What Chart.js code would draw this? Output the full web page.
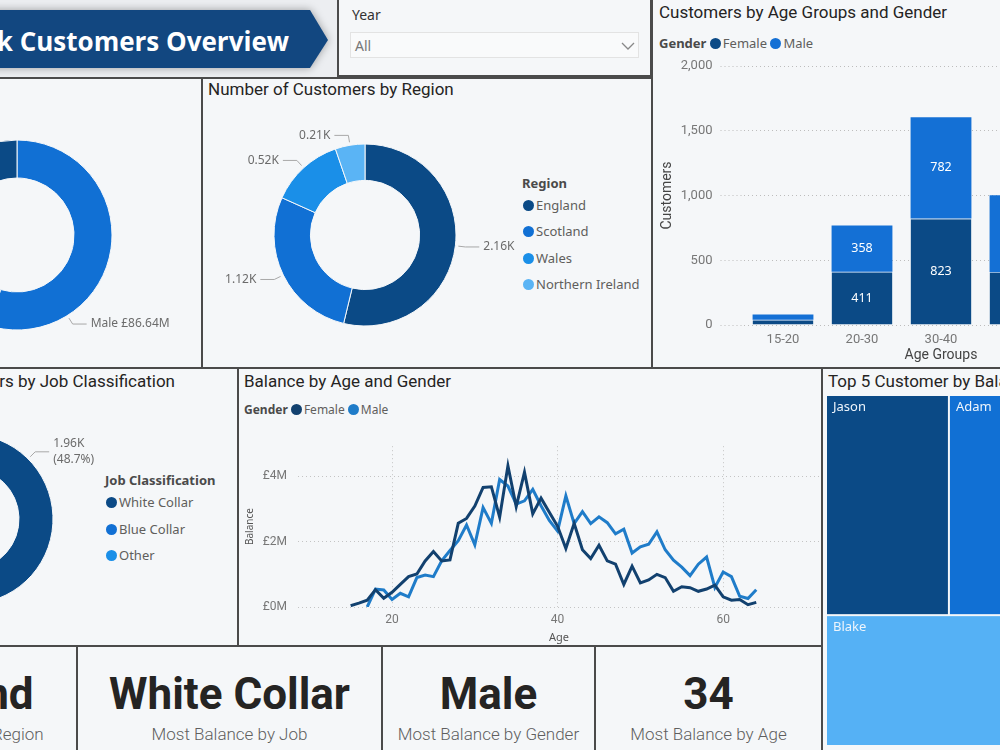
<!DOCTYPE html>
<html>
<head>
<meta charset="utf-8">
<title>Bank Customers Overview</title>
<script src="https://cdn.jsdelivr.net/npm/chart.js@4.4.1/dist/chart.umd.min.js"></script>
<style>
  html, body { margin: 0; padding: 0; }
  body {
    width: 1000px; height: 750px; overflow: hidden; position: relative;
    background: #eceef1; font-family: "Noto Sans", sans-serif;
  }
  .panel { position: absolute; box-sizing: border-box; border: 2px solid #4b4b4b; background: #f5f7f9; }
  .abs { position: absolute; white-space: nowrap; }
  .title { font-family: Roboto, sans-serif; font-size: 17px; color: #252423; line-height: 20px; }
  .lg { font-size: 13px; color: #605e5c; line-height: 18px; }
  .lg b { color: #4a4a4a; }
  .dot { display: inline-block; width: 11px; height: 11px; border-radius: 50%; vertical-align: -1px; margin-right: 2px; }
  .kpi { position: absolute; text-align: center; white-space: nowrap; }
  .kpi .v { font-family: Roboto, sans-serif; font-weight: 700; font-size: 44px; line-height: 50px; color: #252423; }
  .kpi .l { font-family: Roboto, sans-serif; font-weight: 300; font-size: 17px; line-height: 22px; color: #5f5f5f; margin-top: 4px; }
  canvas { position: absolute; }
  #banner { position: absolute; left: -20px; top: 10px; filter: drop-shadow(0 0 4px rgba(0,0,0,0.35)); }
  #banner div {
    width: 348px; height: 58px; background: #124780;
    clip-path: polygon(0 0, 330px 0, 348px 30px, 330px 58px, 0 58px);
  }
</style>
</head>
<body>
<div id="banner"><div></div></div>
<script>
// ---- data ----
const genderLabels = ['Male', 'Female'];
const genderBalanceM = [86.64, 71.9];
const genderColors = ['#1170d4', '#0b4a86'];

const regionLabels = ['England', 'Scotland', 'Wales', 'Northern Ireland'];
const regionCustomers = [2164, 1124, 524, 212];
const regionColors = ['#0b4a86', '#1170d4', '#1a8fe8', '#5ab4f5'];

const jobLabels = ['White Collar', 'Blue Collar', 'Other'];
const jobCustomers = [1960, 1482, 582];
const jobColors = ['#0b4a86', '#1170d4', '#1a8fe8'];

const ageGroups = ['15-20', '20-30', '30-40', '40-50', '50-60'];
const femaleByGroup = [40, 411, 823, 410, 230];
const maleByGroup = [42, 358, 782, 592, 336];
const genderSeries = ['Female', 'Male'];
const barColors = ['#0b4a86', '#1470d5'];

const ages = [15, 16, 17, 18, 19, 20, 21, 22, 23, 24, 25, 26, 27, 28, 29, 30, 31, 32, 33, 34,
  35, 36, 37, 38, 39, 40, 41, 42, 43, 44, 45, 46, 47, 48, 49, 50, 51, 52, 53, 54,
  55, 56, 57, 58, 59, 60, 61, 62, 63, 64];
const femaleBalanceM = [0.04, 0.12, 0.21, 0.53, 0.27, 0.45, 0.69, 0.93, 1.01, 1.41, 1.70, 1.41, 1.44, 2.56, 2.71, 3.09, 3.66, 3.68, 2.75, 4.32,
  3.07, 4.12, 2.85, 3.33, 2.90, 2.47, 1.79, 2.56, 1.75, 1.48, 1.89, 1.41, 1.31, 0.69, 1.25, 0.74, 0.83, 1.00, 0.90, 0.48,
  0.62, 0.59, 0.48, 0.55, 0.67, 0.31, 0.21, 0.23, 0.07, 0.14];
const maleBalanceM = [null, null, 0.00, 0.55, 0.52, 0.23, 0.42, 0.31, 0.90, 0.98, 0.93, 1.41, 1.73, 2.03, 2.51, 1.90, 3.04, 2.56, 3.90, 3.70,
  3.15, 3.25, 3.60, 3.10, 2.65, 2.32, 3.40, 2.55, 2.92, 2.55, 2.76, 2.58, 2.24, 2.38, 1.65, 1.84, 1.92, 2.30, 1.75, 1.43,
  1.22, 0.96, 1.31, 1.53, 0.60, 1.07, 0.93, 0.33, 0.26, 0.53];
const lineColors = ['#12416f', '#1f7cc9'];

const topNames = ['Jason', 'Adam', 'Blake', 'Ryan', 'Liam'];
const topBalanceM = [2.67, 2.63, 2.34, 0.43, 0.38];
const topColors = ['#0b4a86', '#1170d4', '#55b1f5', '#1a8fe8', '#7cc4f7'];

const kpiValues = ['England', 'White Collar', 'Male', '34'];
const kpiLabels = ['Most Balance by Region', 'Most Balance by Job', 'Most Balance by Gender', 'Most Balance by Age'];

// ---- helpers ----
function addDiv(cls, html, style) {
  const d = document.createElement('div');
  d.className = cls;
  d.innerHTML = html;
  Object.assign(d.style, style);
  document.body.appendChild(d);
  return d;
}
function panel(x, y, w, h) {
  addDiv('panel', '', { left: x + 'px', top: y + 'px', width: w + 'px', height: h + 'px' });
}
function addCanvas(x, y, w, h) {
  const c = document.createElement('canvas');
  c.width = w; c.height = h;
  Object.assign(c.style, { left: x + 'px', top: y + 'px', width: w + 'px', height: h + 'px' });
  document.body.appendChild(c);
  return c;
}
function hLegend(x, yc, title, labels, colors, size) {
  let html = '<b>' + title + '</b> ';
  labels.forEach((l, i) => {
    html += '<span class="dot" style="background:' + colors[i] + '"></span>' + l + ' ';
  });
  addDiv('abs lg', html, { left: x + 'px', top: (yc - 9) + 'px', fontSize: size + 'px' });
}
function vLegend(x, yc, title, labels, colors, gap) {
  addDiv('abs lg', '<b>' + title + '</b>', { left: x + 'px', top: (yc - 9) + 'px' });
  labels.forEach((l, i) => {
    addDiv('abs lg', '<span class="dot" style="background:' + colors[i] + '"></span>' + l,
      { left: (x + 1) + 'px', top: (yc + 22 + i * gap - 9) + 'px', fontSize: '13px' });
  });
}

// ---- layout: panels ----
panel(337, -2, 315, 79);     // year slicer
panel(-10, 77, 213, 292);    // gender donut
panel(201, 77, 452, 292);    // region donut
panel(651, -2, 360, 372);    // age groups bars
panel(-10, 367, 249, 280);   // job donut
panel(237, 367, 586, 280);   // balance line
panel(821, 367, 190, 390);   // treemap
panel(-170, 645, 248, 110);
panel(76, 645, 307, 110);
panel(381, 645, 215, 110);
panel(594, 645, 229, 110);

addDiv('abs', 'Bank Customers Overview', {
  right: (1000 - 289) + 'px', top: '23px', color: '#fff', fontWeight: '700',
  fontSize: '26px', lineHeight: '36px', fontFamily: '"Open Sans", sans-serif'
});

// year slicer
addDiv('abs', 'Year', { left: '352px', top: '5px', fontSize: '14px', color: '#333', lineHeight: '20px' });
addDiv('abs', '', { left: '350px', top: '32px', width: '289px', height: '26px', border: '1px solid #e3e3e3', background: '#f9fafb', boxSizing: 'border-box' });
addDiv('abs', 'All', { left: '355px', top: '36px', fontSize: '14px', color: '#777', lineHeight: '20px' });
addDiv('abs', '<svg width="14" height="8"><polyline points="1,1 7,7 13,1" fill="none" stroke="#888" stroke-width="1.3"/></svg>',
  { left: '621px', top: '42px', lineHeight: '0' });

// titles
addDiv('abs title', 'Number of Customers by Region', { left: '208px', top: '79px' });
addDiv('abs title', 'Customers by Age Groups and Gender', { left: '659px', top: '2px' });
addDiv('abs title', 'Number of Customers by Job Classification', { right: (1000 - 175) + 'px', top: '371px' });
addDiv('abs title', 'Balance by Age and Gender', { left: '244px', top: '371px' });
addDiv('abs title', 'Top 5 Customer by Balance', { left: '828px', top: '371px' });

// legends
vLegend(522, 183, 'Region', regionLabels, regionColors, 26.3);
vLegend(105, 480, 'Job Classification', jobLabels, jobColors, 26.5);
hLegend(659, 43, 'Gender', genderSeries, barColors, 13);
hLegend(244, 410, 'Gender', genderSeries, lineColors, 12);

// KPI cards
const kpiCenters = [-46, 229.5, 488.5, 708.5];
kpiValues.forEach((v, i) => {
  addDiv('kpi', '<div class="v">' + v + '</div><div class="l">' + kpiLabels[i] + '</div>',
    { left: (kpiCenters[i] - 150) + 'px', width: '300px', top: '669px' });
});

// ---- charts ----
Chart.defaults.font.family = '"Noto Sans", sans-serif';
Chart.defaults.animation = false;
Chart.defaults.responsive = false;
Chart.defaults.events = [];
Chart.defaults.plugins.legend.display = false;
Chart.defaults.plugins.tooltip.enabled = false;

// outside labels with leader lines; angle in degrees clockwise from 12 o'clock
function donutLabels(textFn, angleOverride) {
  return {
    id: 'donutLabels',
    afterDraw(chart) {
      const ctx = chart.ctx;
      const meta = chart.getDatasetMeta(0);
      ctx.save();
      ctx.font = '12px "Noto Sans", sans-serif';
      ctx.fillStyle = '#6b6b6b';
      ctx.strokeStyle = '#a8a8a8';
      ctx.lineWidth = 1;
      ctx.textBaseline = 'middle';
      meta.data.forEach((arc, i) => {
        const lines = textFn(i);
        if (!lines) return;
        let a = (arc.startAngle + arc.endAngle) / 2;
        if (angleOverride && angleOverride[i] != null) a = (angleOverride[i] - 90) * Math.PI / 180;
        const r = arc.outerRadius;
        const cx = arc.x, cy = arc.y;
        const p0 = [cx + Math.cos(a) * (r + 3), cy + Math.sin(a) * (r + 3)];
        const p1 = [cx + Math.cos(a) * (r + 10), cy + Math.sin(a) * (r + 10)];
        const side = Math.cos(a) >= 0 ? 1 : -1;
        const p2 = [p1[0] + side * 14, p1[1]];
        ctx.beginPath();
        ctx.moveTo(p0[0], p0[1]);
        ctx.lineTo(p1[0], p1[1]);
        ctx.lineTo(p2[0], p2[1]);
        ctx.stroke();
        ctx.textAlign = side > 0 ? 'left' : 'right';
        lines.forEach((t, k) => {
          ctx.fillText(t, p2[0] + side * 4, p2[1] + (k - (lines.length - 1) / 2) * 16);
        });
      });
      ctx.restore();
    }
  };
}

function fmtK(v) { return (v / 1000).toFixed(2) + 'K'; }

// gender donut (centre sits near the left edge, partly off-page)
new Chart(addCanvas(-113, 105, 330, 260), {
  type: 'doughnut',
  data: { labels: genderLabels, datasets: [{ data: genderBalanceM, backgroundColor: genderColors, borderWidth: 1, borderColor: '#f5f7f9' }] },
  options: { radius: 95, cutout: '60%', layout: { padding: { right: 70 } } },
  plugins: [donutLabels(i => i === 0 ? [genderLabels[i] + ' £' + genderBalanceM[i].toFixed(2) + 'M'] : null, [148, null])]
});

// region donut
new Chart(addCanvas(210, 125, 310, 220), {
  type: 'doughnut',
  data: { labels: regionLabels, datasets: [{ data: regionCustomers, backgroundColor: regionColors, borderWidth: 1, borderColor: '#f5f7f9' }] },
  options: { radius: 91, cutout: '60%' },
  plugins: [donutLabels(i => [fmtK(regionCustomers[i])])]
});

// job classification donut
const jobTotal = jobCustomers.reduce((a, b) => a + b, 0);
new Chart(addCanvas(-152, 399, 300, 240), {
  type: 'doughnut',
  data: { labels: jobLabels, datasets: [{ data: jobCustomers, backgroundColor: jobColors, borderWidth: 1, borderColor: '#f5f7f9' }] },
  options: { radius: 85, cutout: '60%', layout: { padding: { right: 60 } } },
  plugins: [donutLabels(i => i === 0 ? [fmtK(jobCustomers[i]), '(' + (jobCustomers[i] / jobTotal * 100).toFixed(1) + '%)'] : null, [45, null, null])]
});

// stacked bars by age group
const barLabelPlugin = {
  id: 'barLabels',
  afterDatasetsDraw(chart) {
    const ctx = chart.ctx;
    ctx.save();
    ctx.font = '12.5px "Noto Sans", sans-serif';
    ctx.fillStyle = '#ffffff';
    ctx.textAlign = 'center';
    ctx.textBaseline = 'middle';
    chart.data.datasets.forEach((ds, di) => {
      chart.getDatasetMeta(di).data.forEach((bar, i) => {
        if (bar.base - bar.y < 22) return;
        ctx.fillText(String(ds.data[i]), bar.x, (bar.y + bar.base) / 2);
      });
    });
    ctx.restore();
  }
};
new Chart(addCanvas(652, 50, 490, 318), {
  type: 'bar',
  data: {
    labels: ageGroups,
    datasets: [
      { label: genderSeries[0], data: femaleByGroup, backgroundColor: barColors[0], borderColor: '#8fb3d9', borderWidth: { top: 1, left: 0, right: 0, bottom: 0 }, borderSkipped: false },
      { label: genderSeries[1], data: maleByGroup, backgroundColor: barColors[1], borderWidth: 0 }
    ]
  },
  options: {
    layout: { padding: { left: 3, top: 16, right: 3.5, bottom: 0 } },
    datasets: { bar: { categoryPercentage: 1, barPercentage: 0.77 } },
    scales: {
      x: {
        stacked: true,
        grid: { display: false, drawTicks: false },
        border: { display: false },
        ticks: { color: '#777', padding: 7, font: { family: 'Roboto', size: 13 } },
        title: { display: true, text: 'Age Groups', color: '#444', font: { family: 'Roboto', size: 14 }, padding: { top: 2, bottom: 4 } },
        afterFit(s) { s.height = 43; }
      },
      y: {
        stacked: true, min: 0, max: 2000,
        ticks: { stepSize: 500, color: '#777', padding: 8, font: { family: 'Roboto', size: 13 }, callback: v => v.toLocaleString('en-US') },
        grid: { color: '#bdbdbd', tickColor: '#bdbdbd', tickLength: 23, tickBorderDash: [1, 3] },
        border: { display: false, dash: [1, 3] },
        title: { display: true, text: 'Customers', color: '#444', font: { family: 'Roboto', size: 14 }, padding: { top: 4, bottom: 0 } },
        afterFit(s) { s.width = 88.5; }
      }
    }
  },
  plugins: [barLabelPlugin]
});

// balance by age line chart
new Chart(addCanvas(240, 428, 580, 217), {
  type: 'line',
  data: {
    datasets: [
      { label: genderSeries[0], data: ages.map((a, i) => ({ x: a, y: femaleBalanceM[i] })), borderColor: lineColors[0], borderWidth: 3, pointRadius: 0, tension: 0 },
      { label: genderSeries[1], data: ages.map((a, i) => ({ x: a, y: maleBalanceM[i] })), borderColor: lineColors[1], borderWidth: 3, pointRadius: 0, tension: 0 }
    ]
  },
  options: {
    layout: { padding: { top: 8, left: 0, right: 0, bottom: 0 } },
    scales: {
      x: {
        type: 'linear', min: 8.64, max: 71.7,
        afterBuildTicks(s) { s.ticks = [20, 40, 60].map(v => ({ value: v })); },
        ticks: { color: '#777', padding: 6, font: { family: 'Roboto', size: 12 } },
        grid: { color: '#c4c4c4', drawTicks: false },
        border: { display: false, dash: [1, 3] },
        title: { display: true, text: 'Age', color: '#555', font: { size: 11 }, padding: { top: 0, bottom: 1 } },
        afterFit(s) { s.height = 38; }
      },
      y: {
        min: 0, max: 4.92,
        afterBuildTicks(s) { s.ticks = [0, 2, 4].map(v => ({ value: v })); },
        ticks: { color: '#777', padding: 11, font: { family: 'Roboto', size: 12 }, callback: v => '£' + v + 'M' },
        grid: { color: '#c4c4c4', drawTicks: false },
        border: { display: false, dash: [1, 3] },
        title: { display: true, text: 'Balance', color: '#555', font: { size: 10 }, padding: { top: 4, bottom: 0 } },
        afterFit(s) { s.width = 58; }
      }
    }
  }
});

// treemap of top customers: squarified layout on the chart's own x/y scales
function squarify(values, x, y, w, h) {
  const total = values.reduce((a, b) => a + b, 0);
  const areas = values.map(v => v * w * h / total);
  const rects = [];
  let i = 0;
  while (i < areas.length) {
    const side = Math.min(w, h);
    const worst = r => {
      const s = r.reduce((a, b) => a + b, 0);
      return Math.max(side * side * Math.max(...r) / (s * s), (s * s) / (side * side * Math.min(...r)));
    };
    const row = [areas[i]];
    let j = i + 1;
    while (j < areas.length && worst(row.concat(areas[j])) <= worst(row)) { row.push(areas[j]); j++; }
    const s = row.reduce((a, b) => a + b, 0);
    if (w <= h) {
      const rh = s / w; let cx = x;
      row.forEach(a => { rects.push({ x: cx, y, w: a / rh, h: rh }); cx += a / rh; });
      y += rh; h -= rh;
    } else {
      const rw = s / h; let cy = y;
      row.forEach(a => { rects.push({ x, y: cy, w: rw, h: a / rw }); cy += a / rw; });
      x += rw; w -= rw;
    }
    i = j;
  }
  return rects;
}
const treemapPlugin = {
  id: 'treemapCells',
  afterDraw(chart) {
    const xs = chart.scales.x, ys = chart.scales.y;
    const x0 = xs.getPixelForValue(0), x1 = xs.getPixelForValue(1);
    const y0 = ys.getPixelForValue(1), y1 = ys.getPixelForValue(0);
    const rects = squarify(topBalanceM, x0, y0, x1 - x0, y1 - y0);
    const ctx = chart.ctx;
    ctx.save();
    ctx.font = '13px "Noto Sans", sans-serif';
    ctx.textBaseline = 'top';
    rects.forEach((r, i) => {
      ctx.fillStyle = topColors[i];
      ctx.fillRect(r.x + 1, r.y + 1, r.w - 2, r.h - 2);
      ctx.fillStyle = '#eef5fc';
      ctx.fillText(topNames[i], r.x + 7, r.y + 6);
    });
    ctx.restore();
  }
};
new Chart(addCanvas(826, 395, 244, 351), {
  type: 'scatter',
  data: { datasets: [{ data: [] }] },
  options: {
    layout: { padding: 0 },
    scales: { x: { min: 0, max: 1, display: false }, y: { min: 0, max: 1, display: false } }
  },
  plugins: [treemapPlugin]
});
</script>
</body>
</html>
